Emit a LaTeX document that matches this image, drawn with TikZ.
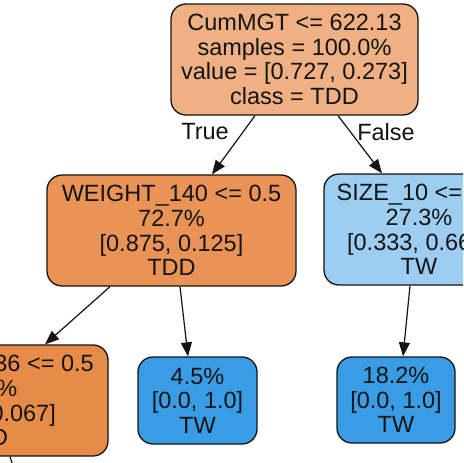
\documentclass[tikz,border=0pt]{standalone}
\usepackage{fontspec}
\setmainfont{Liberation Sans}
\usetikzlibrary{arrows.meta}
\definecolor{rootfill}{RGB}{239,176,131}
\definecolor{leftfill}{RGB}{233,148,86}
\definecolor{llfill}{RGB}{231,139,72}
\definecolor{rightfill}{RGB}{157,206,242}
\definecolor{leaffill}{RGB}{57,157,229}
\definecolor{ink}{RGB}{20,20,20}
\begin{document}
\begin{tikzpicture}[x=1pt,y=-1pt,
  box/.style={draw=ink, line width=1.3pt, rounded corners=15pt, inner sep=0pt,
    align=center, anchor=center, text=ink,
    font=\fontsize{23.5}{24.6}\selectfont},
  edge/.style={draw=ink, line width=1.2pt, -{Triangle[length=14pt,width=11pt]}},
  lbl/.style={text=ink, font=\fontsize{23.5}{24.6}\selectfont, anchor=center, inner sep=0pt}]
\useasboundingbox (0,0) rectangle (463,463);
\clip (0,0) rectangle (463,463);
\fill[white] (0,0) rectangle (463,463);

\node[box, fill=rootfill, minimum width=247pt, minimum height=111pt] (root) at (294.5,59.5)
  {CumMGT <= 622.13\\samples = 100.0\%\\value = [0.727, 0.273]\\class = TDD};
\node[box, fill=leftfill, minimum width=249pt, minimum height=111pt] (left) at (171.5,230.5)
  {WEIGHT\_140 <= 0.5\\72.7\%\\{}[0.875, 0.125]\\TDD};
\node[box, fill=rightfill, minimum width=190pt, minimum height=111pt] (right) at (419,229.5)
  {SIZE\_10 <= 0.5\\27.3\%\\{}[0.333, 0.667]\\TW};
\node[box, fill=llfill, minimum width=248pt, minimum height=111pt] (ll) at (-16,400.5)
  {WEIGHT\_136 <= 0.5\\68.2\%\\{}[0.933, 0.067]\\TDD};
\node[box, fill=leaffill, minimum width=119pt, minimum height=87pt] (leafa) at (197.5,400.5)
  {4.5\%\\{}[0.0, 1.0]\\TW};
\node[box, fill=leaffill, minimum width=118pt, minimum height=86pt] (leafb) at (396,400)
  {18.2\%\\{}[0.0, 1.0]\\TW};

\draw[edge] ([xshift=-39.5pt]root.south) -- ([xshift=40.5pt]left.north);
\draw[edge] ([xshift=43.5pt]root.south) -- ([xshift=-37pt]right.north);
\draw[edge] ([xshift=-61.5pt]left.south) -- ([xshift=61pt]ll.north);
\draw[edge] ([xshift=8.5pt]left.south) -- ([xshift=-9.5pt]leafa.north);
\draw[edge] ([xshift=-9pt]right.south) -- ([xshift=7pt]leafb.north);
\coordinate (llout) at (16,475);
\draw[draw=ink, line width=1.2pt] ([xshift=26pt]ll.south) -- (llout);

\node[lbl] (ltrue) at (205,132) {True};
\node[lbl] (lfalse) at (386,132) {False};
\end{tikzpicture}
\end{document}
